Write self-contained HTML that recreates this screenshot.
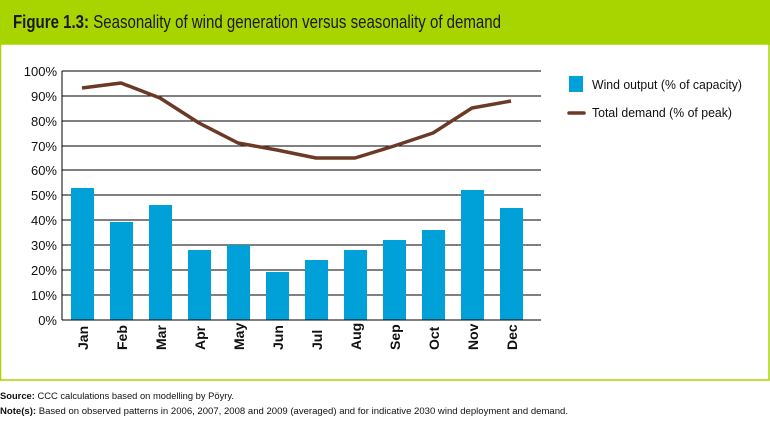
<!DOCTYPE html>
<html><head><meta charset="utf-8"><style>
body{margin:0;width:770px;height:422px;background:#fff;overflow:hidden;font-family:"Liberation Sans",sans-serif}
</style></head><body>
<svg width="770" height="422" xmlns="http://www.w3.org/2000/svg" font-family="Liberation Sans, sans-serif">
<rect x="0" y="0" width="770" height="45" fill="#a8d500"/>
<rect x="0.5" y="44" width="768.5" height="336" fill="#fff" stroke="#a8d500" stroke-width="1.5"/>
<text x="13" y="28" font-size="18" fill="#1a1a1a" textLength="488" lengthAdjust="spacingAndGlyphs"><tspan font-weight="bold">Figure 1.3:</tspan> Seasonality of wind generation versus seasonality of demand</text>
<g stroke="#000" stroke-width="1" shape-rendering="crispEdges">
<line x1="62" y1="71" x2="541" y2="71"/><line x1="62" y1="96" x2="541" y2="96"/><line x1="62" y1="121" x2="541" y2="121"/><line x1="62" y1="146" x2="541" y2="146"/><line x1="62" y1="170" x2="541" y2="170"/><line x1="62" y1="195" x2="541" y2="195"/><line x1="62" y1="220" x2="541" y2="220"/><line x1="62" y1="245" x2="541" y2="245"/><line x1="62" y1="270" x2="541" y2="270"/><line x1="62" y1="295" x2="541" y2="295"/><line x1="62" y1="71" x2="62" y2="320"/>
</g>
<g font-size="13" fill="#111" text-anchor="end">
<text x="57" y="76">100%</text><text x="57" y="101">90%</text><text x="57" y="126">80%</text><text x="57" y="151">70%</text><text x="57" y="175">60%</text><text x="57" y="200">50%</text><text x="57" y="225">40%</text><text x="57" y="250">30%</text><text x="57" y="275">20%</text><text x="57" y="300">10%</text><text x="57" y="325">0%</text>
</g>
<g fill="#00a0d8">
<rect x="71" y="188" width="23" height="132"/><rect x="110" y="222" width="23" height="98"/><rect x="149" y="205" width="23" height="115"/><rect x="188" y="250" width="23" height="70"/><rect x="227" y="245" width="23" height="75"/><rect x="266" y="272" width="23" height="48"/><rect x="305" y="260" width="23" height="60"/><rect x="344" y="250" width="23" height="70"/><rect x="383" y="240" width="23" height="80"/><rect x="422" y="230" width="23" height="90"/><rect x="461" y="190" width="23" height="130"/><rect x="500" y="208" width="23" height="112"/>
</g>
<line x1="62" y1="320" x2="541" y2="320" stroke="#000" shape-rendering="crispEdges"/>
<polyline fill="none" stroke="#6b3a26" stroke-width="3.5" stroke-linejoin="round" points="82,88 121,83 160,98 199,123 238,143 277,150 316,158 355,158 394,146 433,133 472,108 511,101"/>
<g font-size="14" font-weight="bold" fill="#111">
<text transform="translate(88,350) rotate(-90)">Jan</text><text transform="translate(127,350) rotate(-90)">Feb</text><text transform="translate(166,350) rotate(-90)">Mar</text><text transform="translate(205,350) rotate(-90)">Apr</text><text transform="translate(244,350) rotate(-90)">May</text><text transform="translate(283,350) rotate(-90)">Jun</text><text transform="translate(322,350) rotate(-90)">Jul</text><text transform="translate(361,350) rotate(-90)">Aug</text><text transform="translate(400,350) rotate(-90)">Sep</text><text transform="translate(439,350) rotate(-90)">Oct</text><text transform="translate(478,350) rotate(-90)">Nov</text><text transform="translate(517,350) rotate(-90)">Dec</text>
</g>
<rect x="569" y="76" width="14" height="16" fill="#00a0d8"/>
<text x="592" y="89" font-size="12.5" fill="#111" textLength="150" lengthAdjust="spacingAndGlyphs">Wind output (% of capacity)</text>
<line x1="569" y1="113" x2="584" y2="113" stroke="#6b3a26" stroke-width="3.5" stroke-linecap="round"/>
<text x="592" y="117" font-size="12.5" fill="#111" textLength="140" lengthAdjust="spacingAndGlyphs">Total demand (% of peak)</text>
<text x="0" y="399" font-size="9.5" fill="#111" textLength="234" lengthAdjust="spacingAndGlyphs"><tspan font-weight="bold">Source:</tspan> CCC calculations based on modelling by Pöyry.</text>
<text x="0" y="414" font-size="9.5" fill="#111" textLength="568" lengthAdjust="spacingAndGlyphs"><tspan font-weight="bold">Note(s):</tspan> Based on observed patterns in 2006, 2007, 2008 and 2009 (averaged) and for indicative 2030 wind deployment and demand.</text>
</svg>
</body></html>
